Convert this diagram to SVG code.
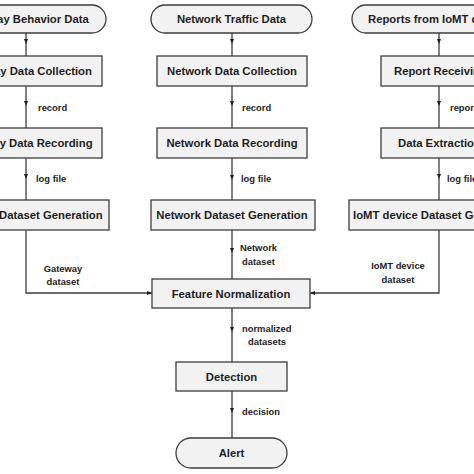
<svg xmlns="http://www.w3.org/2000/svg" width="474" height="474" viewBox="0 0 474 474">
<style>
.box{fill:#f2f2f2;stroke:#3c3c3c;stroke-width:1.3}
.t{font-family:"Liberation Sans",Arial,sans-serif;font-weight:bold;font-size:11.3px;fill:#1e1e1e;text-anchor:middle}
.ts{text-anchor:start}
.l{font-family:"Liberation Sans",Arial,sans-serif;font-weight:bold;font-size:9.4px;fill:#1e1e1e}
.c{fill:none;stroke:#3c3c3c;stroke-width:1.3}
.m{marker-mid:url(#ah)}
.e{marker-end:url(#ah)}
</style>
<defs>
<marker id="ah" viewBox="0 0 10 10" refX="10" refY="5" markerWidth="5" markerHeight="5" markerUnits="userSpaceOnUse" orient="auto">
<path d="M0,1 L10,5 L0,9 z" fill="#1e1e1e"/>
</marker>
</defs>
<rect width="474" height="474" fill="#ffffff"/>
<g id="connectors">
<path class="c m" d="M26 33 L26 44 L26 56"/>
<path class="c m" d="M26 86 L26 106 L26 128"/>
<path class="c m" d="M26 158 L26 179 L26 200"/>
<path class="c m" d="M232 33 L232 44 L232 56"/>
<path class="c m" d="M232 86 L232 106 L232 128"/>
<path class="c m" d="M232 158 L232 180 L232 200"/>
<path class="c m" d="M439 33 L439 44 L439 56"/>
<path class="c m" d="M439 86 L439 106 L439 128"/>
<path class="c m" d="M439 158 L439 179 L439 200"/>
<path class="c e" d="M26 230 L26 293 L152 293"/>
<path class="c e" d="M439 230 L439 293 L310 293"/>
<path class="c m" d="M232 230 L232 253 L232 279"/>
<path class="c m" d="M232 308 L232 332 L232 362"/>
<path class="c m" d="M232 391 L232 413 L232 438"/>
</g>
<g id="labels">
<text class="l" x="38" y="110.5">record</text>
<text class="l" x="36" y="181.5">log file</text>
<text class="l" x="242" y="110.5">record</text>
<text class="l" x="241" y="181.5">log file</text>
<text class="l" x="450" y="110.5">report</text>
<text class="l" x="447" y="181.5">log file</text>
<text class="l" x="240" y="250.5">Network</text>
<text class="l" x="242" y="264.5">dataset</text>
<text class="l" x="63" y="271.5" text-anchor="middle">Gateway</text>
<text class="l" x="63" y="285" text-anchor="middle">dataset</text>
<text class="l" x="398" y="268.5" text-anchor="middle">IoMT device</text>
<text class="l" x="398" y="282.5" text-anchor="middle">dataset</text>
<text class="l" x="242" y="331.5">normalized</text>
<text class="l" x="267" y="344.5" text-anchor="middle">datasets</text>
<text class="l" x="242" y="414.5">decision</text>
</g>
<g id="gw-src"><rect class="box" x="-55" y="5" width="161" height="28" rx="14"/><text class="t" x="26" y="23">Gateway Behavior Data</text></g>
<g id="gw-collect"><rect class="box" x="-48" y="56" width="150" height="30"/><text class="t" x="26" y="75">Gateway Data Collection</text></g>
<g id="gw-record"><rect class="box" x="-48" y="128" width="150" height="30"/><text class="t" x="26" y="147">Gateway Data Recording</text></g>
<g id="gw-dataset"><rect class="box" x="-55" y="200" width="164" height="30"/><text class="t" x="26" y="219">Gateway Dataset Generation</text></g>
<g id="nw-src"><rect class="box" x="151" y="5" width="161" height="28" rx="14"/><text class="t" x="231.5" y="23">Network Traffic Data</text></g>
<g id="nw-collect"><rect class="box" x="157" y="56" width="150" height="30"/><text class="t" x="232" y="75">Network Data Collection</text></g>
<g id="nw-record"><rect class="box" x="157" y="128" width="150" height="30"/><text class="t" x="232" y="147">Network Data Recording</text></g>
<g id="nw-dataset"><rect class="box" x="151" y="200" width="164" height="30"/><text class="t" x="232" y="219">Network Dataset Generation</text></g>
<g id="io-src"><rect class="box" x="352" y="5" width="175" height="28" rx="14"/><text class="t ts" x="368" y="23">Reports from IoMT devices</text></g>
<g id="io-receive"><rect class="box" x="381" y="56" width="150" height="30"/><text class="t ts" x="394" y="75">Report Receiving</text></g>
<g id="io-extract"><rect class="box" x="381" y="128" width="150" height="30"/><text class="t ts" x="398" y="147">Data Extraction</text></g>
<g id="io-dataset"><rect class="box" x="349" y="200" width="200" height="30"/><text class="t ts" x="353" y="219">IoMT device Dataset Generation</text></g>
<g id="normalize"><rect class="box" x="152" y="279" width="158" height="29"/><text class="t" x="231" y="297.5">Feature Normalization</text></g>
<g id="detect"><rect class="box" x="176" y="362" width="111" height="29"/><text class="t" x="231.5" y="380.5">Detection</text></g>
<g id="alert"><rect class="box" x="176" y="438" width="111" height="30" rx="15"/><text class="t" x="231.5" y="457">Alert</text></g>
</svg>
